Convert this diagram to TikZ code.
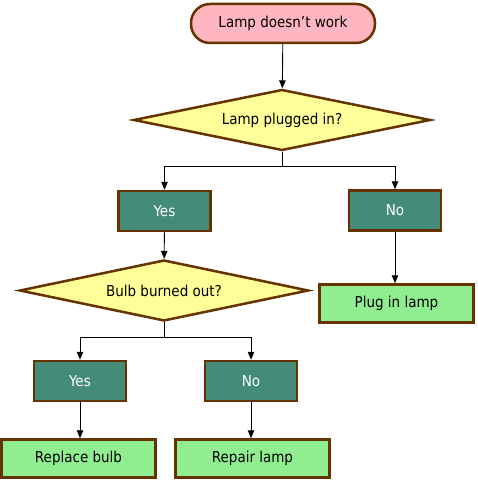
\documentclass[tikz,border=0pt]{standalone}
\usepackage{fontspec}
\setmainfont{DejaVu Sans Condensed}
\usetikzlibrary{shapes.geometric,arrows.meta}
\definecolor{brd}{HTML}{663300}
\definecolor{pinkf}{HTML}{FFB6C1}
\definecolor{yelf}{HTML}{FFFF99}
\definecolor{tealf}{HTML}{458B7A}
\definecolor{greenf}{HTML}{90EE90}
\tikzset{
  base/.style={draw=brd, line width=2.5pt, inner sep=0pt, font=\fontsize{15}{17}\selectfont},
  startbox/.style={base, fill=pinkf, rounded corners=19pt, minimum width=184pt, minimum height=39pt},
  decbox/.style={base, fill=yelf, diamond, aspect=4.8, minimum width=297pt, minimum height=61pt},
  ansbox/.style={base, fill=tealf, text=white, minimum width=92pt, minimum height=40pt},
  actbox/.style={base, fill=greenf, minimum width=154pt, minimum height=38pt},
  arr/.style={draw=black, line width=0.9pt, -{Triangle[length=8pt,width=6.5pt]}}
}
\begin{document}
\begin{tikzpicture}[x=1pt,y=1pt]
\useasboundingbox (0,0) rectangle (477,-481);
\node[startbox] (start) at (283,-23.5) {Lamp doesn’t work};
\node[decbox] (d1) at (282,-120) {Lamp plugged in?};
\node[ansbox] (yes1) at (164.5,-211) {Yes};
\node[ansbox] (no1) at (395,-210.5) {No};
\node[actbox] (plug) at (396.5,-303.5) {Plug in lamp};
\node[decbox, aspect=4.63, minimum width=289pt, minimum height=61pt] (d2) at (164,-290.5) {Bulb burned out?};
\node[ansbox] (yes2) at (80,-381) {Yes};
\node[ansbox] (no2) at (251,-381) {No};
\node[actbox] (repl) at (78.5,-458.5) {Replace bulb};
\node[actbox] (rep) at (252.5,-458.5) {Repair lamp};
\draw[arr] (start) -- (d1);
\draw[arr] (d1.south) -- ++(0,-15) -| (yes1.north);
\draw[arr] (d1.south) -- ++(0,-15) -| (no1.north);
\draw[arr] (no1.south) -- (no1.south |- plug.north);
\draw[arr] (yes1) -- (d2);
\draw[arr] (d2.south) -- ++(0,-15) -| (yes2.north);
\draw[arr] (d2.south) -- ++(0,-15) -| (no2.north);
\draw[arr] (yes2.south) -- (yes2.south |- repl.north);
\draw[arr] (no2.south) -- (no2.south |- rep.north);
\end{tikzpicture}
\end{document}
